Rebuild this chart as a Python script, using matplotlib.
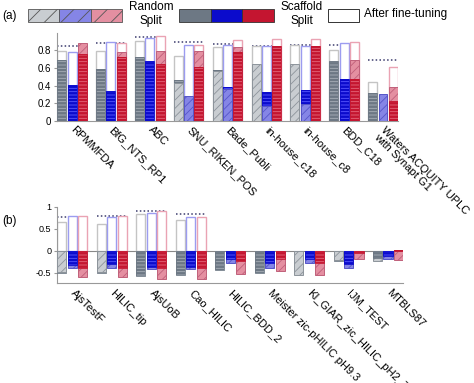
import numpy as np
import matplotlib
matplotlib.use('Agg')
import matplotlib.pyplot as plt
from matplotlib.patches import Rectangle
from matplotlib.transforms import ScaledTranslation

plt.rcParams['font.family'] = ['Liberation Sans', 'DejaVu Sans']
plt.rcParams['hatch.linewidth'] = 0.6

nan = np.nan

# ---- panel (a) data ----
top_groups = ['RPMMFDA', 'BfG_NTS_RP1', 'ABC', 'SNU_RIKEN_POS', 'Bade_Publi',
              'in-house_c18', 'in-house_c8', 'BDD_C18',
              'Waters ACQUITY UPLC\nwith Synapt G1']
gray_rand = [nan, nan, nan, 0.425, 0.565, 0.645, 0.645, nan, nan]
gray_scaf = [0.695, 0.59, 0.72, 0.464, 0.58, nan, nan, 0.676, 0.317]
gray_ft = [0.79, 0.795, 0.91, 0.738, 0.834, 0.85, 0.857, 0.81, 0.445]
blue_rand = [nan, nan, nan, 0.286, 0.364, 0.162, 0.186, nan, 0.309]
blue_scaf = [0.41, 0.336, 0.685, nan, 0.387, 0.329, 0.344, 0.48, nan]
blue_ft = [0.78, 0.90, 0.947, 0.865, 0.866, 0.85, 0.85, 0.885, nan]
red_rand = [0.885, 0.78, 0.796, 0.796, 0.84, nan, nan, 0.69, 0.387]
red_scaf = [0.76, 0.72, 0.65, 0.61, 0.78, 0.85, 0.85, 0.47, 0.228]
red_ft = [nan, 0.88, 0.966, 0.857, 0.915, 0.935, 0.935, 0.897, 0.607]
top_ref = [0.85, 0.89, 0.95, 0.90, 0.877, 0.85, 0.857, 0.857, 0.695]

# ---- panel (b) data ----
bot_groups = ['AjsTestF', 'HILIC_tip', 'AjsUoB', 'Cao_HILIC', 'HILIC_BDD_2',
              'Meister zic-pHILIC pH9.3', 'KI_GIAR_zic_HILIC_pH2_7',
              'IJM_TEST', 'MTBLS87']
gray_rand_b = [-0.484, -0.48, nan, nan, nan, nan, -0.55, -0.21, -0.225]
gray_scaf_b = [-0.50, -0.495, -0.575, -0.545, -0.44, -0.50, nan, -0.235, -0.17]
gray_ft_b = [0.66, 0.62, 0.83, 0.70, nan, nan, nan, nan, nan]
blue_rand_b = [-0.393, -0.39, -0.42, -0.41, -0.27, -0.385, -0.265, -0.39, -0.19]
blue_scaf_b = [-0.325, -0.31, -0.375, -0.36, -0.196, -0.27, -0.19, -0.31, -0.12]
blue_ft_b = [0.79, 0.77, 0.86, 0.77, nan, nan, nan, nan, nan]
red_rand_b = [-0.59, -0.59, -0.65, -0.64, -0.53, -0.46, -0.55, -0.19, -0.21]
red_scaf_b = [-0.386, -0.386, -0.386, -0.40, -0.23, -0.175, -0.287, -0.06, 0.03]
red_ft_b = [0.80, 0.79, 0.90, 0.77, nan, nan, nan, nan, nan]
bot_ref = [0.77, 0.79, 0.91, 0.83, nan, nan, nan, nan, nan]

# styles: (dark fill, stripe), (light fill, hatch line), fine-tune edge
dark = ['#6d7884', '#0b0bcc', '#c41530']
stripe = ['#a9b1b9', '#5a5aff', '#e56a7c']
light = ['#c9cdd1', '#8585e6', '#e48fa1']
hatchc = ['#8d949b', '#5555c8', '#c0607a']
ftedge = ['#c4c4c4', '#9c9cf0', '#eaa3b3']

W = 0.23
D = 0.265


def solid_bar(ax, x, v, k, z):
    ax.bar(x, v, W, color=dark[k], edgecolor=stripe[k], hatch='-----',
           linewidth=0, zorder=z)
    ax.bar(x, v, W, fill=False, edgecolor=dark[k], linewidth=0.6, zorder=z)


def hatch_bar(ax, x, v, k, z):
    ax.bar(x, v, W, color=light[k], edgecolor=hatchc[k], hatch='////',
           linewidth=0.7, zorder=z)


def draw_panel(ax, series, ref):
    n = len(ref)
    for k, (rand, scaf, ft) in enumerate(series):
        xs = np.arange(n) + (k - 1) * D
        for i in range(n):
            x = xs[i]
            if not np.isnan(ft[i]):
                ax.bar(x, ft[i], W, color='white', edgecolor=ftedge[k],
                       linewidth=1.0, zorder=2)
            r, s = rand[i], scaf[i]
            items = []
            if not np.isnan(r):
                items.append((abs(r), 'r', r))
            if not np.isnan(s):
                items.append((abs(s), 's', s))
            items.sort(key=lambda t: -t[0])
            for j, (_, kind, v) in enumerate(items):
                if kind == 'r':
                    hatch_bar(ax, x, v, k, 3 + j)
                else:
                    solid_bar(ax, x, v, k, 3 + j)
    for i in range(n):
        if not np.isnan(ref[i]):
            ax.hlines(ref[i], i - D - W / 2, i + D + W / 2, colors='#3c3c6e',
                      linestyles=(0, (1, 1.5)), linewidth=1.1, zorder=1)
    ax.set_xlim(-D - W / 2 - 0.01, n - 1 + D + W / 2 + 0.01)
    for sp in ['top', 'right']:
        ax.spines[sp].set_visible(False)
    for sp in ['left', 'bottom']:
        ax.spines[sp].set_color('#999999')
    ax.tick_params(axis='y', length=2, color='#999999', labelsize=7, pad=2)
    ax.tick_params(axis='x', length=0, pad=3)


def shift_labels(ax):
    off = ScaledTranslation(2.5 / 72, 0, fig.dpi_scale_trans)
    for lab in ax.get_xticklabels():
        lab.set_transform(lab.get_transform() + off)


fig = plt.figure(figsize=(4.74, 3.83), dpi=100)

ax1 = fig.add_axes([0.120, 0.685, 0.720, 0.229])
draw_panel(ax1, [(gray_rand, gray_scaf, gray_ft),
                 (blue_rand, blue_scaf, blue_ft),
                 (red_rand, red_scaf, red_ft)], top_ref)
ax1.set_ylim(0, 1.0)
ax1.set_yticks([0, 0.2, 0.4, 0.6, 0.8])
ax1.set_yticklabels(['0', '0.2', '0.4', '0.6', '0.8'])
ax1.set_xticks(np.arange(len(top_groups)))
ax1.set_xticklabels(top_groups, rotation=-45, ha='left', va='top',
                    rotation_mode='anchor', fontsize=8, linespacing=1.0)
shift_labels(ax1)

ax2 = fig.add_axes([0.120, 0.260, 0.731, 0.200])
ax2.axhline(0, color='#888888', linewidth=0.8, zorder=1)
draw_panel(ax2, [(gray_rand_b, gray_scaf_b, gray_ft_b),
                 (blue_rand_b, blue_scaf_b, blue_ft_b),
                 (red_rand_b, red_scaf_b, red_ft_b)], bot_ref)
ax2.set_ylim(-0.74, 1.0)
ax2.set_yticks([-0.5, 0, 0.5, 1])
ax2.set_yticklabels(['-0.5', '0', '0.5', '1'])
ax2.tick_params(axis='y', labelsize=6.5)
ax2.set_xticks(np.arange(len(bot_groups)))
ax2.set_xticklabels(bot_groups, rotation=-45, ha='left', va='top',
                    rotation_mode='anchor', fontsize=8)
shift_labels(ax2)

# legend / panel labels drawn in pixel space
lax = fig.add_axes([0, 0, 1, 1], zorder=10)
lax.set_xlim(0, 474)
lax.set_ylim(383, 0)
lax.axis('off')
for k in range(3):
    lax.add_patch(Rectangle((28 + 31.3 * k, 9), 31.3, 13, facecolor=light[k],
                            edgecolor='#555555', hatch='//', linewidth=0.6))
    lax.add_patch(Rectangle((179 + 31.6 * k, 9), 31.6, 13, facecolor=dark[k],
                            edgecolor='#333333', linewidth=0.6))
lax.add_patch(Rectangle((328, 9), 31, 13, facecolor='white',
                        edgecolor='#333333', linewidth=0.7))
lax.text(151, 14, 'Random\nSplit', ha='center', va='center', fontsize=8.5,
         linespacing=1.3)
lax.text(302, 14, 'Scaffold\nSplit', ha='center', va='center', fontsize=8.5,
         linespacing=1.3)
lax.text(364, 14.5, 'After fine-tuning', ha='left', va='center', fontsize=8.5)
lax.text(2, 15.5, '(a)', ha='left', va='center', fontsize=8.5)
lax.text(2, 221, '(b)', ha='left', va='center', fontsize=8.5)

fig.savefig('out.png', dpi=100)
